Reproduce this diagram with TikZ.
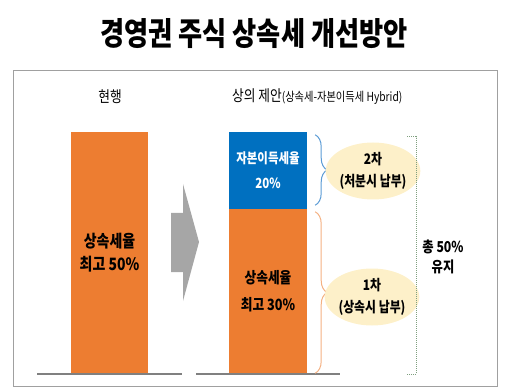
\documentclass[tikz,border=0pt]{standalone}
\usepackage{fontspec}
\setmainfont{Noto Sans CJK KR}[FakeStretch=0.82]
\usepackage{xcolor}
\usetikzlibrary{shapes.geometric,decorations.pathreplacing}
\definecolor{AccOrange}{HTML}{ED7D31}
\definecolor{AccBlue}{HTML}{0070C0}
\definecolor{AccGray}{HTML}{A6A6A6}
\definecolor{LineGray}{HTML}{808080}
\definecolor{FrameGray}{HTML}{A0A0A0}
\definecolor{LightGold}{HTML}{FDF0C9}
\definecolor{BraceBlue}{HTML}{5B9BD5}
\definecolor{BraceOrange}{HTML}{F4B183}
\definecolor{DotGreen}{HTML}{7F9F7F}
\tikzset{
  bar/.style={draw=none,minimum width=77pt,inner sep=0pt,align=center},
  stage/.style={ellipse,fill=LightGold,minimum width=73pt,minimum height=57pt,inner sep=0pt,align=center,
    font=\fontsize{14.5}{22}\selectfont\bfseries},
  curly/.style={decorate,decoration={brace,amplitude=12pt,aspect=0.5},line width=1pt}
}

\begin{document}
\begin{tikzpicture}[x=1pt,y=-1pt]
  \useasboundingbox (0,0) rectangle (514,390);
  % Title and frame
  \node[font=\fontsize{32}{34}\selectfont\bfseries] (title) at (254,34) {경영권 주식 상속세 개선방안};
  \draw[FrameGray,line width=1pt] (13,71) rectangle (497,386);

  % Headers
  \node[font=\fontsize{15.5}{17}\selectfont] (hdrnow) at (110,97) {현행};
  \node[anchor=west,inner sep=0pt,font=\fontsize{15.5}{17}\selectfont] (hdrnew) at (232,97)
    {상의 제안{\fontsize{12.5}{14}\selectfont(상속세-자본이득세 Hybrid)}};

  % Current (left)
  \node[bar,fill=AccOrange,minimum height=242pt,font=\fontsize{17}{23}\selectfont\bfseries] (now) at (109.5,253)
    {상속세율\\최고 50\%};

  % Shift arrow
  \fill[AccGray] (171,213) -- (183,213) -- (183,184) -- (199,242)
    -- (183,301) -- (183,272) -- (171,272) -- cycle;

  % Proposal (right)
  \node[bar,fill=AccBlue,text=white,minimum width=78pt,minimum height=77pt,
    font=\fontsize{14}{25}\selectfont\bfseries] (cgt) at (268,170.5) {자본이득세율\\20\%};
  \node[bar,fill=AccOrange,minimum width=78pt,minimum height=165pt,
    font=\fontsize{15.5}{27}\selectfont\bfseries] (inh) at (268,291.5) {상속세율\\최고 30\%};

  % Base lines
  \draw[LineGray,line width=2pt] (37,374) -- (182,374);
  \draw[LineGray,line width=2pt] (196,374) -- (340,374);

  % Braces and stages
  \draw[curly,BraceBlue] ([shift={(8,3)}]cgt.north east) -- ([shift={(8,-4)}]cgt.south east);
  \draw[curly,BraceOrange] ([shift={(8,3)}]inh.north east) -- ([shift={(8,-1)}]inh.south east);
  \node[stage] (second) at (373,171) {2차\\(처분시 납부)};
  \node[stage] (first) at (372,297) {1차\\(상속시 납부)};

  % Total
  \coordinate (tottop) at (407,137);
  \coordinate (totbot) at (407,374);
  \draw[DotGreen,densely dotted,line width=1pt] (tottop) -- ++(9,0) |- (totbot);
  \node[align=center,font=\fontsize{15}{20}\selectfont\bfseries] (total) at (443,257) {총 50\%\\유지};
\end{tikzpicture}
\end{document}
